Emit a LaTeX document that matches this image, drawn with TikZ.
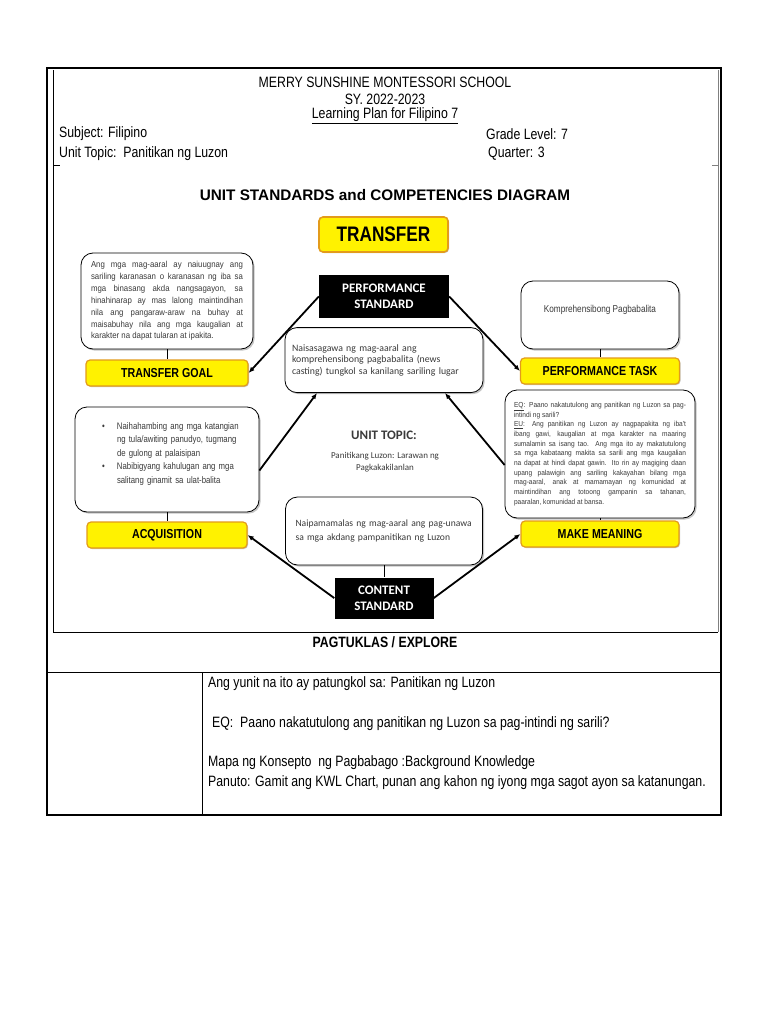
\documentclass[tikz,border=0pt]{standalone}
\usepackage{fontspec}
\setmainfont{Liberation Sans}[FakeStretch=0.82]
\newfontfamily\wideface{Liberation Sans}
\newfontfamily\midface{Liberation Sans}[FakeStretch=0.9]
\newfontfamily\calface{Carlito}
\usetikzlibrary{arrows.meta,positioning,shadows}
\definecolor{goalcol}{HTML}{FFF200}
\definecolor{rimcol}{HTML}{E39B1B}
\definecolor{inkcol}{HTML}{3A3A3A}
\definecolor{shadecol}{HTML}{8C8C8C}
\newcommand\fsz[2]{\fontsize{#1}{#2}\selectfont}

\begin{document}
\begin{tikzpicture}[x=1pt,y=-1pt,
  txt/.style={inner sep=0,font=\fsz{15}{17}},
  frame/.style={line width=2.6pt},
  rule/.style={line width=0.7pt},
  note/.style={draw,line width=0.8pt,rounded corners=12pt,fill=white,inner sep=0,text=inkcol,
    drop shadow={shadow xshift=1.6pt,shadow yshift=-1.6pt,fill=shadecol}},
  goal/.style={draw=rimcol,line width=1.2pt,rounded corners=4pt,fill=goalcol,inner sep=0,
    minimum height=26pt,font=\bfseries\fsz{13}{15},
    drop shadow={shadow xshift=1pt,shadow yshift=-1pt,fill=shadecol}},
  stdbox/.style={fill=black,text=white,inner sep=0,align=center,font=\calface\bfseries\fsz{13}{15.5}},
  arr/.style={-{Latex[length=6pt,width=5pt]},line width=1.8pt},
  link/.style={line width=0.8pt}]
  \path[use as bounding box,fill=white] (0,0) rectangle (768,1024);
  \draw[frame] (47,68) rectangle (721,815);
  \draw[rule] (53,70) -- (53,632) -- (718,632);
  \draw[rule,gray] (718,70) -- (718,632);
  \draw[rule] (53,165) -- (60,165);
  \draw[rule,gray] (712,165) -- (718,165);
  \draw[rule] (47,672) -- (721,672);
  \draw[rule] (202,672) -- (202,815);

  \node[txt] (school) at (385,82) {MERRY SUNSHINE MONTESSORI SCHOOL};
  \node[txt] (year) at (385,99) {SY. 2022-2023};
  \node[txt] (plan) at (385,116) {\underline{Learning Plan for Filipino 7}};
  \node[txt,anchor=west] (subject) at (59,134) {Subject: Filipino};
  \node[txt,anchor=west] (grade) at (486,134) {Grade Level: 7};
  \node[txt,anchor=west] (unit) at (59,154) {Unit Topic:\ \ Panitikan ng Luzon};
  \node[txt,anchor=west] (quarter) at (488,154) {Quarter: 3};

  \node[txt,font=\wideface\bfseries\fsz{15.3}{17}] (title) at (385,195) {UNIT STANDARDS and COMPETENCIES DIAGRAM};
  \node[goal,minimum width=129pt,minimum height=35pt,line width=1.6pt,font=\bfseries\fsz{21}{24}] (transfer) at (383.5,234.5) {TRANSFER};

  \node[stdbox,minimum width=130pt,minimum height=43pt] (perfstd) at (384,296.5) {PERFORMANCE\\STANDARD};
  \node[note,minimum width=198pt,minimum height=65pt,text width=184pt,align=left,font=\calface\fsz{9.8}{11.5},below=9pt of perfstd] (pstext) {Naisasagawa ng mag-aaral ang\\komprehensibong pagbabalita (news\\casting) tungkol sa kanilang sariling lugar};

  \node[note,minimum width=172pt,minimum height=96pt,text width=152pt,align=justify,font=\midface\fsz{8.7}{11.9}] (goaltext) at (167,301) {\hyphenpenalty=10000\exhyphenpenalty=10000 Ang mga mag-aaral ay naiuugnay ang\linebreak sariling karanasan o karanasan ng iba sa\linebreak mga binasang akda nangsagayon, sa\linebreak hinahinarap ay mas lalong maintindihan\linebreak nila ang pangaraw-araw na buhay at\linebreak maisabuhay nila ang mga kaugalian at\linebreak karakter na dapat tularan at ipakita.};
  \node[goal,minimum width=162pt,below=10pt of goaltext] (tgoal) {TRANSFER GOAL};

  \node[note,minimum width=158pt,minimum height=68pt,align=center,font=\fsz{10}{12}] (tasktext) at (600,315) {Komprehensibong Pagbabalita\\\mbox{}};
  \node[goal,minimum width=159pt,below=8pt of tasktext] (task) {PERFORMANCE TASK};

  \node[note,minimum width=190pt,minimum height=128pt,text width=172pt,align=justify,font=\midface\fsz{7.3}{9.7}] (meantext) at (600,454) {\hyphenpenalty=10000\exhyphenpenalty=10000 \underline{EQ}: Paano nakatutulong ang panitikan ng Luzon sa pag-\linebreak intindi ng sarili?\\ \underline{EU}: Ang panitikan ng Luzon ay nagpapakita ng iba't\linebreak ibang gawi, kaugalian at mga karakter na maaring\linebreak sumalamin sa isang tao. Ang mga ito ay makatutulong\linebreak sa mga kabataang makita sa sarili ang mga kaugalian\linebreak na dapat at hindi dapat gawin. Ito rin ay magiging daan\linebreak upang palawigin ang sariling kakayahan bilang mga\linebreak mag-aaral, anak at mamamayan ng komunidad at\linebreak maintindihan ang totoong gampanin sa tahanan,\linebreak paaralan, komunidad at bansa.};
  \node[goal,minimum width=158pt,below=2pt of meantext] (meaning) {MAKE MEANING};

  \node[note,minimum width=184pt,minimum height=105pt,text width=170pt,align=left,font=\fsz{9.5}{13.5}] (acqtext) at (167,459.5) {\hspace*{20pt}\makebox[15pt][l]{\textbullet}Naihahambing ang mga katangian\\\hspace*{35pt}ng tula/awiting panudyo, tugmang\\\hspace*{35pt}de gulong at palaisipan\\\hspace*{20pt}\makebox[15pt][l]{\textbullet}Nabibigyang kahulugan ang mga\\\hspace*{35pt}salitang ginamit sa ulat-balita\\\mbox{}};
  \node[goal,minimum width=160pt,below=9pt of acqtext] (acq) {ACQUISITION};

  \node[txt,font=\calface\bfseries\fsz{13}{15},text=inkcol] (topic) at (384,435) {UNIT TOPIC:};
  \node[txt,font=\calface\fsz{9}{11.5},text=inkcol,align=center] (topictext) at (385,462) {Panitikang Luzon: Larawan ng\\Pagkakakilanlan};

  \node[note,minimum width=197pt,minimum height=68pt,text width=177pt,align=left,font=\calface\fsz{9.6}{14}] (conttext) at (384,531) {Naipamamalas ng mag-aaral ang pag-unawa\\sa mga akdang pampanitikan ng Luzon};
  \node[stdbox,minimum width=99pt,minimum height=41pt,below=12pt of conttext] (contstd) {CONTENT\\STANDARD};

  \draw[link] (goaltext.south) -- (tgoal.north);
  \draw[link] (tasktext.south) -- (task.north);
  \draw[link] (meantext.south) -- (meaning.north);
  \draw[link] (acqtext.south) -- (acq.north);
  \draw[link] (conttext.south) -- (contstd.north);
  \draw[arr] (perfstd.west) -- (tgoal.east);
  \draw[arr] (perfstd.east) -- (task.west);
  \draw[arr] (contstd.west) -- (acq.east);
  \draw[arr] (contstd.east) -- (meaning.west);
  \draw[arr] ([yshift=-11pt]acqtext.east) -- ([xshift=-67pt]pstext.south);
  \draw[arr] ([yshift=-11pt]meantext.west) -- ([xshift=61pt]pstext.south);

  \node[txt,font=\bfseries\fsz{15}{17}] (explore) at (385,642) {PAGTUKLAS / EXPLORE};
  \node[txt,anchor=west] (about) at (208,684) {Ang yunit na ito ay patungkol sa: Panitikan ng Luzon};
  \node[txt,anchor=west] (question) at (212,724) {EQ:\ \ Paano nakatutulong ang panitikan ng Luzon sa pag-intindi ng sarili?};
  \node[txt,anchor=west] (map) at (208,763) {Mapa ng Konsepto\ \ ng Pagbabago :Background Knowledge};
  \node[txt,anchor=west] (guide) at (208,783) {Panuto: Gamit ang KWL Chart, punan ang kahon ng iyong mga sagot ayon sa katanungan.};
\end{tikzpicture}
\end{document}
